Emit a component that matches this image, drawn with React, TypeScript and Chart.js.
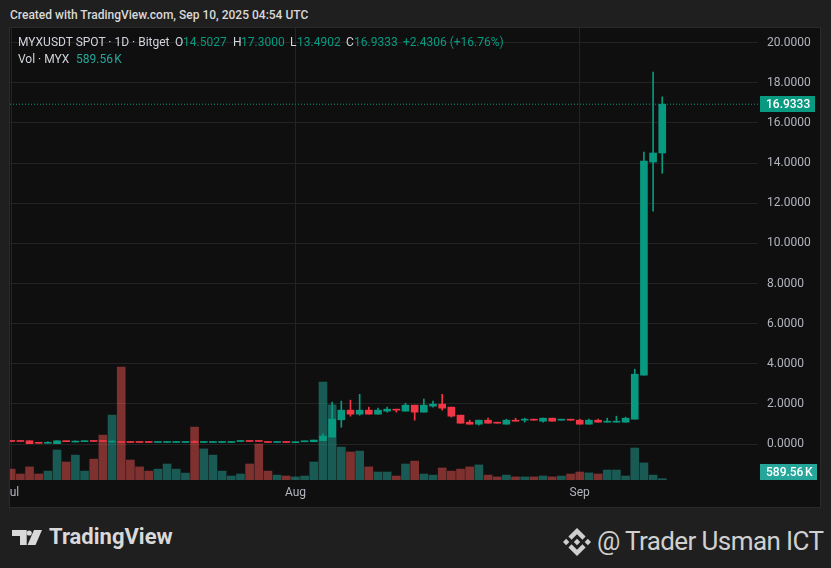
import React, { useEffect, useRef } from "react";
import { Chart, registerables } from "chart.js";
Chart.register(...registerables);

// Day index 0 = Jul 1, 2025 ... 71 = Sep 10, 2025
const opens = [
  0.15, 0.15, 0.165, 0.065, 0.04, 0.02, 0.15, 0.10, 0.12, 0.15,
  0.15, 0.10, 0.10, 0.10, 0.10, 0.10, 0.08, 0.08, 0.08, 0.08,
  0.10, 0.08, 0.08, 0.08, 0.08, 0.13, 0.15, 0.15, 0.10, 0.08,
  0.10, 0.07, 0.115, 0.115, 0.17, 0.35, 1.21, 1.69, 1.49, 1.69,
  1.49, 1.64, 1.74, 1.64, 1.94, 1.59, 1.89, 1.99, 1.84, 1.44,
  1.09, 0.99, 1.19, 1.09, 0.99, 1.19, 1.19, 1.24, 1.14, 1.29,
  1.19, 1.24, 1.19, 0.99, 1.19, 1.09, 1.09, 1.09, 1.24, 3.43,
  14.05, 14.5027,
];
const highs = [
  0.15, 0.15, 0.165, 0.065, 0.115, 0.165, 0.15, 0.165, 0.15, 0.15,
  0.15, 0.165, 0.10, 0.10, 0.10, 0.10, 0.10, 0.10, 0.10, 0.10,
  0.165, 0.10, 0.10, 0.13, 0.10, 0.15, 0.15, 0.15, 0.10, 0.10,
  0.10, 0.10, 0.15, 0.20, 0.51, 2.09, 2.14, 2.19, 2.48, 1.84,
  1.79, 1.84, 1.74, 2.04, 1.94, 2.24, 2.14, 2.48, 1.84, 1.44,
  1.19, 1.19, 1.29, 1.09, 1.24, 1.29, 1.29, 1.24, 1.29, 1.29,
  1.24, 1.24, 1.24, 1.24, 1.24, 1.29, 1.39, 1.34, 3.73, 14.55,
  18.53, 17.3,
];
const lows = [
  0.13, 0.13, 0.02, 0.04, 0.04, 0.02, 0.12, 0.10, 0.12, 0.13,
  0.13, 0.10, 0.08, 0.08, 0.08, 0.08, 0.08, 0.08, 0.08, 0.08,
  0.08, 0.08, 0.08, 0.08, 0.08, 0.13, 0.13, 0.13, 0.08, 0.08,
  0.08, 0.07, 0.115, 0.115, 0.165, 0.35, 0.84, 1.39, 1.44, 1.49,
  1.49, 1.59, 1.59, 1.64, 1.19, 1.59, 1.84, 1.69, 1.34, 1.04,
  0.99, 0.94, 1.04, 1.04, 0.99, 1.14, 1.09, 1.19, 1.09, 1.14,
  1.19, 1.19, 0.99, 0.99, 1.09, 1.09, 1.09, 1.09, 1.24, 3.43,
  11.61, 13.4902,
];
const closes = [
  0.13, 0.13, 0.02, 0.04, 0.065, 0.165, 0.12, 0.115, 0.15, 0.13,
  0.13, 0.115, 0.08, 0.08, 0.08, 0.08, 0.10, 0.10, 0.10, 0.10,
  0.08, 0.10, 0.10, 0.10, 0.10, 0.15, 0.13, 0.13, 0.08, 0.10,
  0.08, 0.10, 0.15, 0.20, 0.40, 1.24, 1.69, 1.49, 1.69, 1.49,
  1.69, 1.74, 1.69, 1.94, 1.59, 1.94, 1.99, 1.79, 1.39, 1.04,
  0.99, 1.19, 1.04, 1.04, 1.19, 1.14, 1.24, 1.19, 1.29, 1.14,
  1.24, 1.19, 0.99, 1.19, 1.09, 1.14, 1.14, 1.29, 3.48, 14.10,
  14.5027, 16.9333,
];
// volume in millions of MYX
const volumes = [
  4.9, 2.7, 5.9, 2.7, 4.0, 13.5, 8.1, 11.2, 4.0, 9.4,
  20.2, 29.2, 50.8, 9.0, 5.9, 4.0, 4.9, 7.2, 4.9, 3.1,
  23.8, 14.0, 11.2, 4.0, 1.8, 2.7, 7.2, 16.2, 4.0, 2.2,
  1.8, 1.4, 1.8, 8.1, 44.1, 33.8, 14.8, 12.6, 13.0, 5.9,
  3.6, 3.6, 1.8, 7.2, 8.5, 2.7, 2.2, 5.4, 4.0, 4.9,
  5.9, 6.8, 2.2, 1.4, 2.2, 1.4, 1.4, 1.4, 1.8, 1.4,
  1.8, 2.7, 3.6, 3.2, 2.7, 4.5, 4.5, 1.8, 14.4, 7.7,
  2.2, 0.58956,
];
const monthTicks = [0, 31, 62];
const monthLabels = ["Jul", "Aug", "Sep"];
const priceTicks = [0, 2, 4, 6, 8, 10, 12, 14, 16, 18, 20];

const days = closes.map((_, i) => i);
const UP = "#089981";
const DOWN = "#f23645";
const VOL_UP = "rgba(38,166,154,0.5)";
const VOL_DOWN = "rgba(239,83,80,0.5)";
const X_MIN = -0.13;
const X_MAX = 81.44;
const Y_MIN = -1.79;
const Y_MAX = 20.73;
const VOL_MAX = 203.4;

const lastIdx = closes.length - 1;
const lastClose = closes[lastIdx];
const lastVol = volumes[lastIdx];
const prevClose = closes[lastIdx - 1];
const change = lastClose - prevClose;
const changePct = (change / prevClose) * 100;
const fmtVol = (v: number) => (v * 1000).toFixed(2) + "\u202fK";

const isUp = (i: number) => closes[i] >= opens[i];

const labelPlugin = {
  id: "lastLabels",
  afterDraw(chart: any) {
    const { ctx, chartArea, scales } = chart;
    ctx.save();
    const py = scales.y.getPixelForValue(lastClose);
    ctx.fillStyle = UP;
    ctx.fillRect(chartArea.right + 2, Math.round(py) - 8, 55, 16);
    ctx.fillStyle = "#ffffff";
    ctx.font = "500 12px Roboto";
    ctx.textBaseline = "middle";
    ctx.textAlign = "left";
    ctx.fillText(lastClose.toFixed(4), chartArea.right + 8, Math.round(py) + 0.5);
    const vy = Math.min(scales.yv.getPixelForValue(lastVol), chartArea.bottom - 8);
    ctx.fillStyle = "#26a69a";
    ctx.fillRect(chartArea.right + 2, Math.round(vy) - 8, 57, 16);
    ctx.fillStyle = "#ffffff";
    ctx.fillText(fmtVol(lastVol), chartArea.right + 8, Math.round(vy) + 0.5);
    ctx.restore();
  },
};

export default function App() {
  const ref = useRef<HTMLCanvasElement>(null);
  useEffect(() => {
    Chart.defaults.font.family = "Roboto";
    const chart = new Chart(ref.current as HTMLCanvasElement, {
      type: "bar",
      data: {
        datasets: [
          {
            type: "bar",
            label: "body",
            data: days.map((d) => ({ x: d, y: [opens[d], closes[d]] })) as any,
            backgroundColor: days.map((d) => (isUp(d) ? UP : DOWN)),
            barThickness: 7,
            grouped: false,
            minBarLength: 1,
            yAxisID: "y",
            order: 1,
          } as any,
          {
            type: "bar",
            label: "wick",
            data: days.map((d) => ({ x: d, y: [lows[d], highs[d]] })) as any,
            backgroundColor: days.map((d) => (isUp(d) ? UP : DOWN)),
            barThickness: 1,
            grouped: false,
            yAxisID: "y",
            order: 2,
          } as any,
          {
            type: "bar",
            label: "volume",
            data: days.map((d) => ({ x: d, y: volumes[d] })) as any,
            backgroundColor: days.map((d) => (isUp(d) ? VOL_UP : VOL_DOWN)),
            barThickness: 8,
            grouped: false,
            yAxisID: "yv",
            order: 3,
          } as any,
          {
            type: "line",
            label: "last",
            data: [
              { x: X_MIN, y: lastClose },
              { x: X_MAX, y: lastClose },
            ],
            borderColor: UP,
            borderWidth: 1,
            borderDash: [1, 2],
            pointRadius: 0,
            yAxisID: "y",
            order: 0,
          } as any,
        ],
      },
      options: {
        animation: false,
        responsive: false,
        maintainAspectRatio: false,
        layout: { padding: 0 },
        plugins: { legend: { display: false }, tooltip: { enabled: false } },
        scales: {
          x: {
            type: "linear",
            min: X_MIN,
            max: X_MAX,
            offset: false,
            afterBuildTicks: (s: any) => {
              s.ticks = monthTicks.map((v) => ({ value: v }));
            },
            afterFit: (s: any) => {
              s.height = 27;
              s.paddingLeft = 0;
              s.paddingRight = 0;
            },
            ticks: {
              autoSkip: false,
              maxRotation: 0,
              color: "#b2b5be",
              font: { size: 12 },
              padding: 6,
              callback: (v: any) => monthLabels[monthTicks.indexOf(Number(v))],
            },
            grid: { color: "#232323", drawTicks: false, offset: false },
            border: { display: false },
          },
          y: {
            position: "right",
            min: Y_MIN,
            max: Y_MAX,
            afterBuildTicks: (s: any) => {
              s.ticks = priceTicks.map((v) => ({ value: v }));
            },
            afterFit: (s: any) => {
              s.width = 62;
              s.paddingTop = 0;
              s.paddingBottom = 0;
            },
            ticks: {
              color: "#b2b5be",
              font: { size: 12 },
              padding: 9,
              callback: (v: any) => Number(v).toFixed(4),
            },
            grid: { color: "#232323", drawTicks: false },
            border: { display: false },
          },
          yv: {
            display: false,
            min: 0,
            max: VOL_MAX,
          },
        },
      } as any,
      plugins: [labelPlugin],
    });
    return () => chart.destroy();
  }, []);

  const txt: React.CSSProperties = { position: "absolute", whiteSpace: "nowrap", fontSize: 12, lineHeight: "14px" };
  const lbl = "#d1d4dc";
  return (
    <div
      style={{
        position: "fixed",
        left: 0,
        top: 0,
        width: 831,
        height: 568,
        background: "#1f1f1f",
        overflow: "hidden",
        fontFamily: "Roboto, sans-serif",
      }}
    >
      <div style={{ ...txt, left: 10, top: 8, color: "#d9d9d9", fontWeight: 500 }}>
        Created with TradingView.com, Sep 10, 2025 04:54 UTC
      </div>
      <div
        style={{
          position: "absolute",
          left: 9,
          top: 27,
          width: 812,
          height: 481,
          boxSizing: "border-box",
          border: "1px solid #2a2a2a",
          background: "#0f0f0f",
        }}
      >
        <canvas ref={ref} width={810} height={479} style={{ position: "absolute", left: 0, top: 0, width: 810, height: 479 }} />
      </div>
      <div style={{ ...txt, left: 18, top: 35, color: lbl }}>MYXUSDT SPOT · 1D · Bitget</div>
      <div style={{ ...txt, left: 175, top: 35, color: lbl }}>O</div>
      <div style={{ ...txt, left: 183, top: 35, color: UP }}>{opens[lastIdx].toFixed(4)}</div>
      <div style={{ ...txt, left: 233, top: 35, color: lbl }}>H</div>
      <div style={{ ...txt, left: 241, top: 35, color: UP }}>{highs[lastIdx].toFixed(4)}</div>
      <div style={{ ...txt, left: 290, top: 35, color: lbl }}>L</div>
      <div style={{ ...txt, left: 297, top: 35, color: UP }}>{lows[lastIdx].toFixed(4)}</div>
      <div style={{ ...txt, left: 346, top: 35, color: lbl }}>C</div>
      <div style={{ ...txt, left: 354, top: 35, color: UP }}>{lastClose.toFixed(4)}</div>
      <div style={{ ...txt, left: 403, top: 35, color: UP }}>
        {(change >= 0 ? "+" : "") + change.toFixed(4) + " (" + (changePct >= 0 ? "+" : "") + changePct.toFixed(2) + "%)"}
      </div>
      <div style={{ ...txt, left: 18, top: 52, color: lbl }}>Vol · MYX</div>
      <div style={{ ...txt, left: 76, top: 52, color: "#26a69a" }}>{fmtVol(lastVol)}</div>

      <svg width={30} height={15} viewBox="0 0 30 15" style={{ position: "absolute", left: 12, top: 530 }}>
        <path d="M0 0H14.7V15H8V6H0Z" fill="#d9d9d9" />
        <circle cx={17.2} cy={3} r={2.6} fill="#d9d9d9" />
        <path d="M22 0H30L23.5 15H15.5Z" fill="#d9d9d9" />
      </svg>
      <div
        style={{
          position: "absolute",
          left: 49,
          top: 526,
          fontSize: 22,
          lineHeight: "22px",
          fontWeight: 700,
          color: "#d9d9d9",
          whiteSpace: "nowrap",
          letterSpacing: 0,
        }}
      >
        TradingView
      </div>
      <svg width={28} height={28} viewBox="0 0 126.61 126.61" style={{ position: "absolute", left: 563, top: 528 }}>
        <path
          fill="#cfcfcf"
          d="M38.73 53.2l24.59-24.58 24.6 24.6 14.3-14.31L63.32 0 24.43 38.9l14.3 14.3zM0 63.31l14.3-14.31 14.31 14.31-14.31 14.3zm38.73 10.1l24.59 24.59 24.6-24.6 14.31 14.29-38.9 38.91-38.91-38.88-.02-.02 14.32-14.29zm59.28-10.1l14.3-14.31 14.3 14.3-14.3 14.31zM77.83 63.3L63.32 48.78 52.59 59.51l-1.24 1.23-2.54 2.54-.02.02.02.03 14.51 14.5 14.51-14.52.01-.01-.01-.01z"
        />
      </svg>
      <div
        style={{
          position: "absolute",
          left: 597,
          top: 526,
          fontSize: 26,
          lineHeight: "30px",
          color: "#d0d0d0",
          whiteSpace: "nowrap",
          letterSpacing: -0.6,
        }}
      >
        @ Trader Usman ICT
      </div>
    </div>
  );
}
